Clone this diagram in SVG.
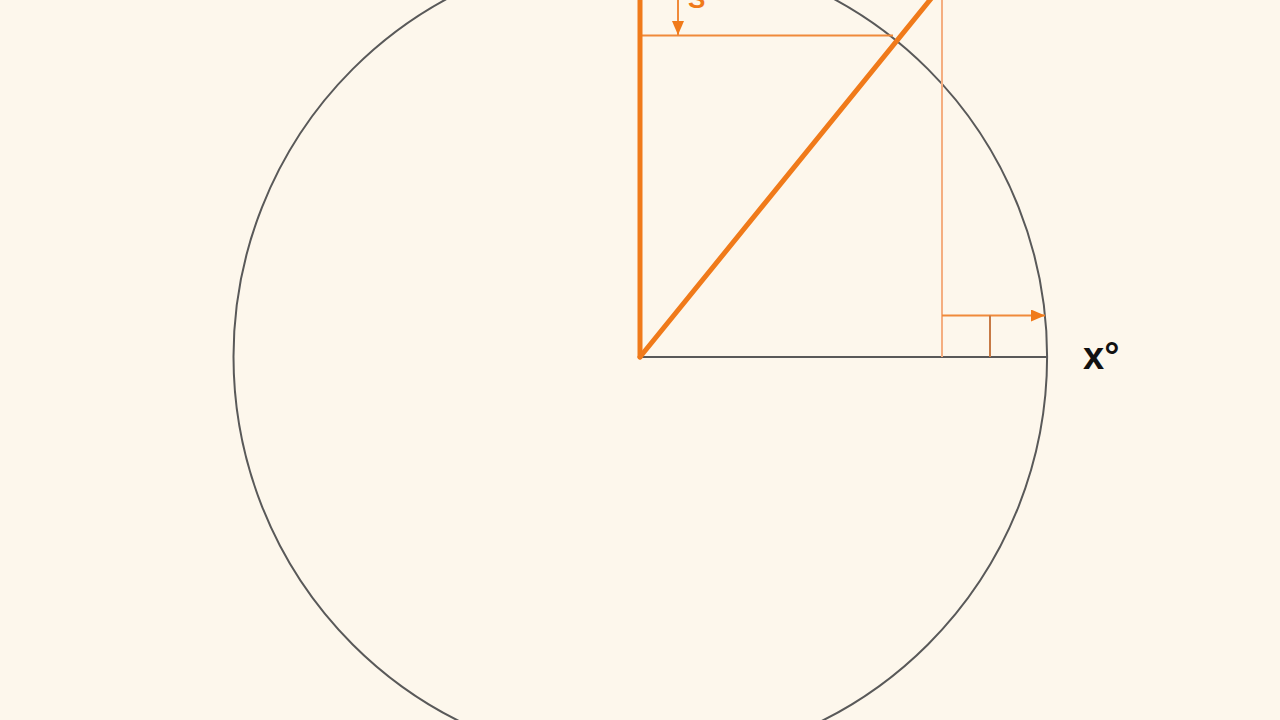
<svg xmlns="http://www.w3.org/2000/svg" width="1280" height="720" viewBox="0 0 1280 720">
  <defs>
    <style>
      .circle { fill: none; stroke: #595959; stroke-width: 2; }
      .gray { stroke: #595959; stroke-width: 2; fill: none; }
      .thick { stroke: #F07A1A; stroke-width: 5; stroke-linecap: round; fill: none; }
      .thin { stroke: #F08A3A; stroke-width: 2; fill: none; }
      .light { stroke: #F5AE80; stroke-width: 2; fill: none; }
      .brown { stroke: #C77A45; stroke-width: 2; fill: none; }
      .label { font-family: "Liberation Sans", Arial, sans-serif; font-weight: bold; }
    </style>
    <marker id="arr" viewBox="0 0 10 10" refX="10" refY="5" markerWidth="7" markerHeight="7" markerUnits="userSpaceOnUse" orient="auto">
      <path d="M0,0 L10,5 L0,10 z" fill="#F07A1A"/>
    </marker>
    <marker id="arr2" viewBox="0 0 14 12" refX="14" refY="6" markerWidth="14" markerHeight="12" markerUnits="userSpaceOnUse" orient="auto">
      <path d="M0,0 L14,6 L0,12 z" fill="#F07A1A"/>
    </marker>
  </defs>
  <rect x="0" y="0" width="1280" height="720" fill="#FDF7EC"/>

  <g id="unit-circle">
    <circle class="circle" cx="640.3" cy="356.8" r="406.8"/>
  </g>

  <g id="connectors">
    <line id="radius-x" class="gray" x1="640" y1="357" x2="1047" y2="357"/>
    <line id="light-vertical" class="light" x1="942" y1="0" x2="942" y2="357"/>
    <line id="sine-level" class="thin" x1="640" y1="35.5" x2="893" y2="35.5"/>
    <line id="s-arrow" class="thin" x1="678" y1="0" x2="678" y2="35" marker-end="url(#arr2)"/>
    <line id="x-arrow" class="thin" x1="942" y1="315.5" x2="1045" y2="315.5" marker-end="url(#arr2)"/>
    <line id="tick" class="brown" x1="990" y1="315.5" x2="990" y2="357"/>
    <line id="vertical-axis" class="thick" x1="640" y1="-5" x2="640" y2="357"/>
    <line id="diagonal" class="thick" x1="640" y1="357" x2="934" y2="-5"/>
  </g>

  <g id="label-s">
    <text class="label" x="688" y="8" font-size="26" fill="#F07A1A">S</text>
  </g>
  <g id="label-x">
    <text class="label" x="1083" y="369" font-size="38" fill="#111111">x°</text>
  </g>
</svg>
